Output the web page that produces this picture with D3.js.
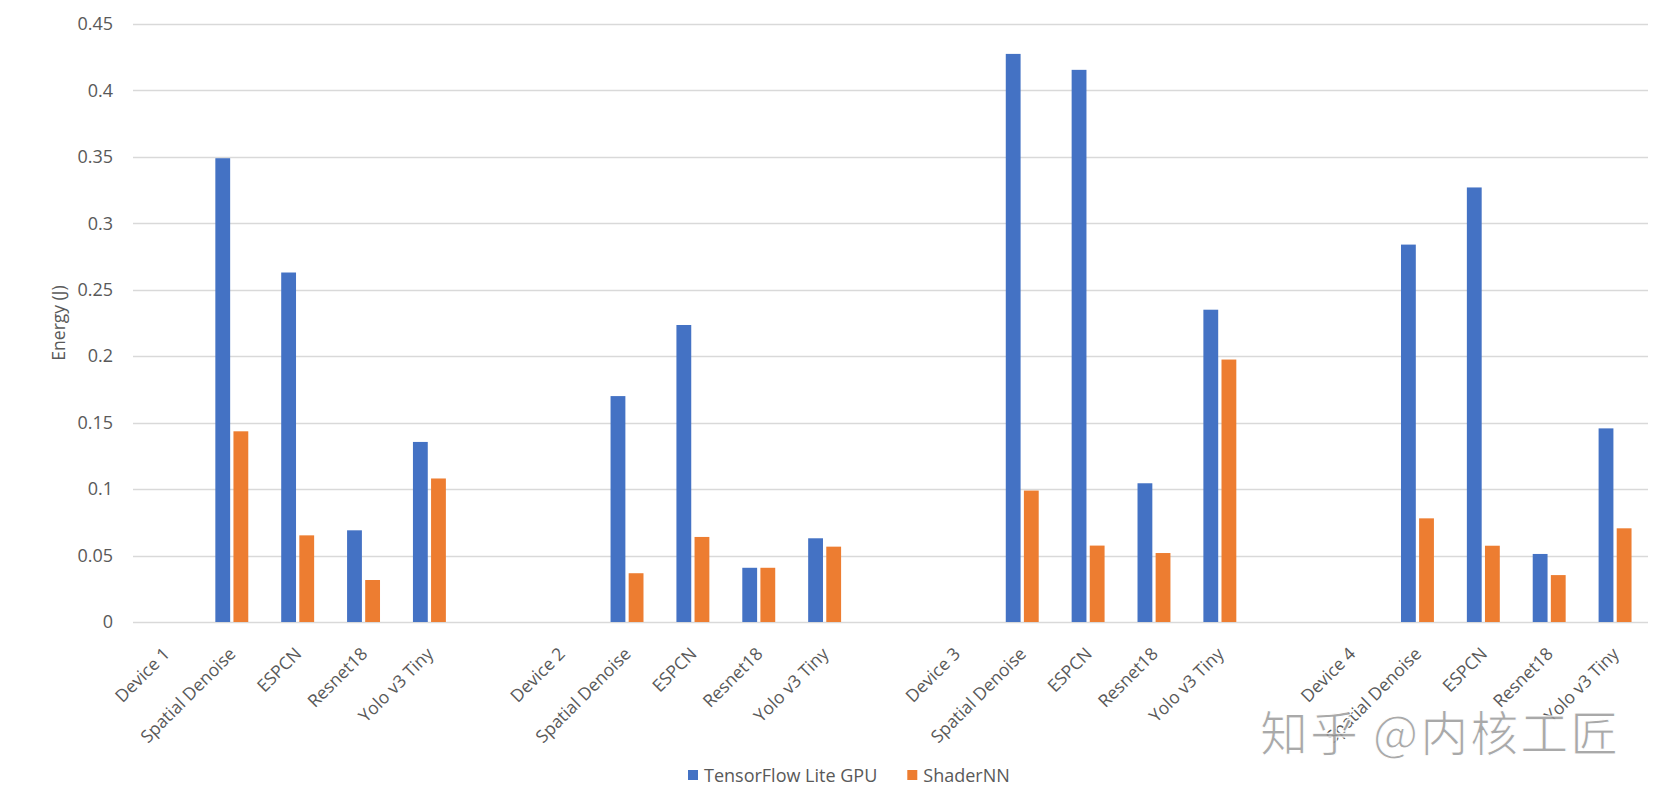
<!DOCTYPE html>
<html>
<head>
<meta charset="utf-8">
<script src="https://cdn.jsdelivr.net/npm/d3@7"></script>
<style>
  body { margin: 0; background: #fff; }
  text { font-family: "Open Sans", sans-serif; }
</style>
</head>
<body>
<div id="chart"></div>
<script>
// categories (blank entries are the spacer slots between devices)
var categories = [
    "Device 1", "Spatial Denoise", "ESPCN", "Resnet18", "Yolo v3 Tiny", "",
    "Device 2", "Spatial Denoise", "ESPCN", "Resnet18", "Yolo v3 Tiny", "",
    "Device 3", "Spatial Denoise", "ESPCN", "Resnet18", "Yolo v3 Tiny", "",
    "Device 4", "Spatial Denoise", "ESPCN", "Resnet18", "Yolo v3 Tiny"
];
var tfliteGpu = [
    null, 0.349, 0.263, 0.069, 0.1355, null,
    null, 0.170, 0.2235, 0.0408, 0.063, null,
    null, 0.4275, 0.4155, 0.1044, 0.235, null,
    null, 0.284, 0.327, 0.0512, 0.1457
];
var shaderNN = [
    null, 0.1435, 0.0652, 0.0316, 0.108, null,
    null, 0.0367, 0.064, 0.0408, 0.0567, null,
    null, 0.0989, 0.0575, 0.0519, 0.1975, null,
    null, 0.078, 0.0574, 0.0353, 0.0705
];
var seriesNames = ["TensorFlow Lite GPU", "ShaderNN"];
var yTicks = [0, 0.05, 0.1, 0.15, 0.2, 0.25, 0.3, 0.35, 0.4, 0.45];
var yTitle = "Energy (J)";
var watermark = "知乎 @内核工匠";

var width = 1658, height = 801;
var margin = { top: 24, right: 10, bottom: 179, left: 133 };
var colors = ["#4472C4", "#ED7D31"];
var textColor = "#595959";

var svg = d3.select("#chart").append("svg")
    .attr("width", width)
    .attr("height", height);

var x = d3.scaleBand()
    .domain(d3.range(categories.length))
    .range([margin.left, width - margin.right])
    .padding(0);

var y = d3.scaleLinear()
    .domain([0, 0.45])
    .range([height - margin.bottom, margin.top]);

// gridlines
svg.append("g")
    .selectAll("line")
    .data(yTicks)
    .enter()
    .append("line")
    .attr("x1", margin.left)
    .attr("x2", width - margin.right)
    .attr("y1", function (d) { return Math.round(y(d)) + 0.5; })
    .attr("y2", function (d) { return Math.round(y(d)) + 0.5; })
    .style("stroke", "#d9d9d9")
    .style("stroke-width", 1.5);

// y axis labels
var yAxis = d3.axisLeft(y)
    .tickValues(yTicks)
    .tickFormat(function (d) { return String(+d.toFixed(2)); })
    .tickSize(0)
    .tickPadding(20);

var gy = svg.append("g")
    .attr("transform", "translate(" + margin.left + ",0)")
    .call(yAxis);
gy.select(".domain").remove();
gy.selectAll("text")
    .style("font-family", "'Open Sans', sans-serif")
    .style("font-size", "18px")
    .style("fill", textColor);

// y title
svg.append("text")
    .attr("transform", "translate(65," + ((margin.top + height - margin.bottom) / 2) + ") rotate(-90)")
    .attr("text-anchor", "middle")
    .style("font-size", "17.5px")
    .style("fill", textColor)
    .text(yTitle);

// bars
var bw = x.bandwidth();
var barW = bw * 0.225;
var barGap = bw * 0.05;
var series = [tfliteGpu, shaderNN];

series.forEach(function (vals, s) {
    svg.append("g")
        .selectAll("rect")
        .data(vals.map(function (v, i) { return { i: i, v: v }; })
            .filter(function (d) { return d.v !== null; }))
        .enter()
        .append("rect")
        .attr("x", function (d) {
            return x(d.i) + bw / 2 - barW - barGap / 2 + s * (barW + barGap);
        })
        .attr("y", function (d) { return y(d.v); })
        .attr("width", barW)
        .attr("height", function (d) { return y(0) - y(d.v); })
        .style("fill", colors[s]);
});

// x labels
var xAxis = d3.axisBottom(x)
    .tickFormat(function (i) { return categories[i]; })
    .tickSize(0);

var gx = svg.append("g")
    .attr("transform", "translate(0," + (height - margin.bottom) + ")")
    .call(xAxis);
gx.select(".domain").remove();
gx.selectAll("text")
    .attr("x", 0)
    .attr("y", 0)
    .attr("dy", 0)
    .attr("text-anchor", "end")
    .attr("transform", "translate(5,33) rotate(-45)")
    .style("font-family", "'Open Sans', sans-serif")
    .style("font-size", "17.5px")
    .style("fill", textColor);

// legend
var legend = svg.append("g");
var lx = 688, ly = 776;
seriesNames.forEach(function (name, s) {
    legend.append("rect")
        .attr("x", lx)
        .attr("y", ly - 6)
        .attr("width", 10)
        .attr("height", 10)
        .style("fill", colors[s]);
    var t = legend.append("text")
        .attr("x", lx + 16)
        .attr("y", ly + 6)
        .style("font-size", "18px")
        .style("fill", textColor)
        .text(name);
    lx += 16 + t.node().getComputedTextLength() + 30;
});

// watermark
svg.append("text")
    .attr("x", 1260)
    .attr("y", 751)
    .style("font-family", "'Noto Sans CJK SC', sans-serif")
    .style("font-size", "48px")
    .style("letter-spacing", "2px")
    .style("fill", "#9a9a9a")
    .style("fill-opacity", 0.85)
    .style("stroke", "#ffffff")
    .style("stroke-width", 1)
    .text(watermark);
</script>
</body>
</html>
